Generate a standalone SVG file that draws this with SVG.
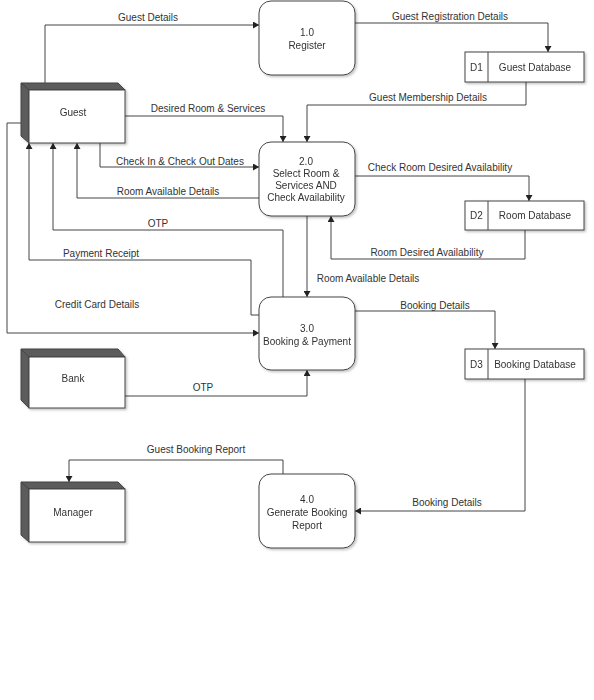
<svg xmlns="http://www.w3.org/2000/svg" width="594" height="700" viewBox="0 0 594 700">
<defs>
<style>
.t{font-family:"Liberation Sans",Arial,sans-serif;font-size:10px;fill:#333;text-anchor:middle}
.c{fill:none;stroke:#444;stroke-width:1}
.box{fill:#fff;stroke:#444;stroke-width:1}
.dk{fill:#5c5c5c;stroke:#444;stroke-width:1}
</style>
<marker id="ah" markerWidth="7" markerHeight="7" refX="6" refY="3.5" orient="auto" markerUnits="userSpaceOnUse">
<path d="M0,0 L6,3.5 L0,7 Z" fill="#222"/>
</marker>
<filter id="sh" x="-10%" y="-10%" width="130%" height="130%">
<feDropShadow dx="1.5" dy="1.5" stdDeviation="1" flood-color="#000" flood-opacity="0.25"/>
</filter>
</defs>
<rect width="594" height="700" fill="#fff"/>

<g id="connectors">
<path class="c" marker-end="url(#ah)" d="M45,83 V25 H259"/>
<path class="c" marker-end="url(#ah)" d="M355,23 H548 V52"/>
<path class="c" marker-end="url(#ah)" d="M526,82 V105 H307 V142"/>
<path class="c" marker-end="url(#ah)" d="M125,116 H283 V142"/>
<path class="c" marker-end="url(#ah)" d="M100,143 V167 H259"/>
<path class="c" marker-end="url(#ah)" d="M259,198 H77 V143"/>
<path class="c" marker-end="url(#ah)" d="M283,297 V230 H53 V143"/>
<path class="c" marker-end="url(#ah)" d="M259,315 H251 V260 H29 V143"/>
<path class="c" marker-end="url(#ah)" d="M21,123 H7 V333 H259"/>
<path class="c" marker-end="url(#ah)" d="M355,176 H529 V201"/>
<path class="c" marker-end="url(#ah)" d="M525,230 V259 H331 V216"/>
<path class="c" marker-end="url(#ah)" d="M307,216 V297"/>
<path class="c" marker-end="url(#ah)" d="M355,311 H495 V349"/>
<path class="c" marker-end="url(#ah)" d="M125,396 H307 V370"/>
<path class="c" marker-end="url(#ah)" d="M525,379 V511 H355"/>
<path class="c" marker-end="url(#ah)" d="M283,474 V460 H69 V482"/>
<text class="t" x="148" y="21">Guest Details</text>
<text class="t" x="450" y="19.5">Guest Registration Details</text>
<text class="t" x="428" y="101">Guest Membership Details</text>
<text class="t" x="208" y="112">Desired Room &amp; Services</text>
<text class="t" x="180" y="164.5">Check In &amp; Check Out Dates</text>
<text class="t" x="168" y="194.5">Room Available Details</text>
<text class="t" x="158" y="227">OTP</text>
<text class="t" x="101" y="256.5">Payment Receipt</text>
<text class="t" x="440" y="170.5">Check Room Desired Availability</text>
<text class="t" x="427" y="255.5">Room Desired Availability</text>
<text class="t" x="368" y="281.5">Room Available Details</text>
<text class="t" x="97" y="307.5">Credit Card Details</text>
<text class="t" x="435" y="308.5">Booking Details</text>
<text class="t" x="203" y="390.5">OTP</text>
<text class="t" x="196" y="452.5">Guest Booking Report</text>
<text class="t" x="447" y="505.5">Booking Details</text>
</g>

<g id="guest" filter="url(#sh)">
<polygon class="dk" points="21,83 118,83 125,90 29,90"/>
<polygon class="dk" points="21,83 29,90 29,143 21,136"/>
<rect class="box" x="29" y="90" width="96" height="53"/>
<text class="t" x="73" y="115.5">Guest</text>
</g>

<g id="bank" filter="url(#sh)">
<polygon class="dk" points="21,349 118,349 125,357 29,357"/>
<polygon class="dk" points="21,349 29,357 29,408 21,400"/>
<rect class="box" x="29" y="357" width="96" height="51"/>
<text class="t" x="73" y="381.5">Bank</text>
</g>

<g id="manager" filter="url(#sh)">
<polygon class="dk" points="21,482 118,482 125,489 29,489"/>
<polygon class="dk" points="21,482 29,489 29,542 21,535"/>
<rect class="box" x="29" y="489" width="96" height="53"/>
<text class="t" x="73" y="515.5">Manager</text>
</g>

<g id="p1" filter="url(#sh)">
<rect class="box" x="259" y="1" width="96" height="74" rx="12"/>
<text class="t" x="307" y="35.5">1.0</text>
<text class="t" x="307" y="48.5">Register</text>
</g>

<g id="p2" filter="url(#sh)">
<rect class="box" x="259" y="142" width="96" height="74" rx="12"/>
<text class="t" x="306" y="164.5">2.0</text>
<text class="t" x="306" y="176.5">Select Room &amp;</text>
<text class="t" x="306" y="188.5">Services AND</text>
<text class="t" x="306" y="200.5">Check Availability</text>
</g>

<g id="p3" filter="url(#sh)">
<rect class="box" x="259" y="297" width="96" height="73" rx="12"/>
<text class="t" x="307" y="331.5">3.0</text>
<text class="t" x="307" y="344.5">Booking &amp; Payment</text>
</g>

<g id="p4" filter="url(#sh)">
<rect class="box" x="259" y="474" width="96" height="74" rx="12"/>
<text class="t" x="307" y="502.5">4.0</text>
<text class="t" x="307" y="515.5">Generate Booking</text>
<text class="t" x="307" y="528.5">Report</text>
</g>

<g id="d1" filter="url(#sh)">
<rect class="box" x="465" y="52" width="119" height="30"/>
<line class="c" x1="488" y1="52" x2="488" y2="82"/>
<text class="t" x="476.5" y="70.5">D1</text>
<text class="t" x="535" y="70.5">Guest Database</text>
</g>

<g id="d2" filter="url(#sh)">
<rect class="box" x="465" y="201" width="119" height="29"/>
<line class="c" x1="488" y1="201" x2="488" y2="230"/>
<text class="t" x="476.5" y="219">D2</text>
<text class="t" x="535" y="219">Room Database</text>
</g>

<g id="d3" filter="url(#sh)">
<rect class="box" x="465" y="349" width="119" height="30"/>
<line class="c" x1="488" y1="349" x2="488" y2="379"/>
<text class="t" x="476.5" y="367.5">D3</text>
<text class="t" x="535" y="367.5">Booking Database</text>
</g>
</svg>
